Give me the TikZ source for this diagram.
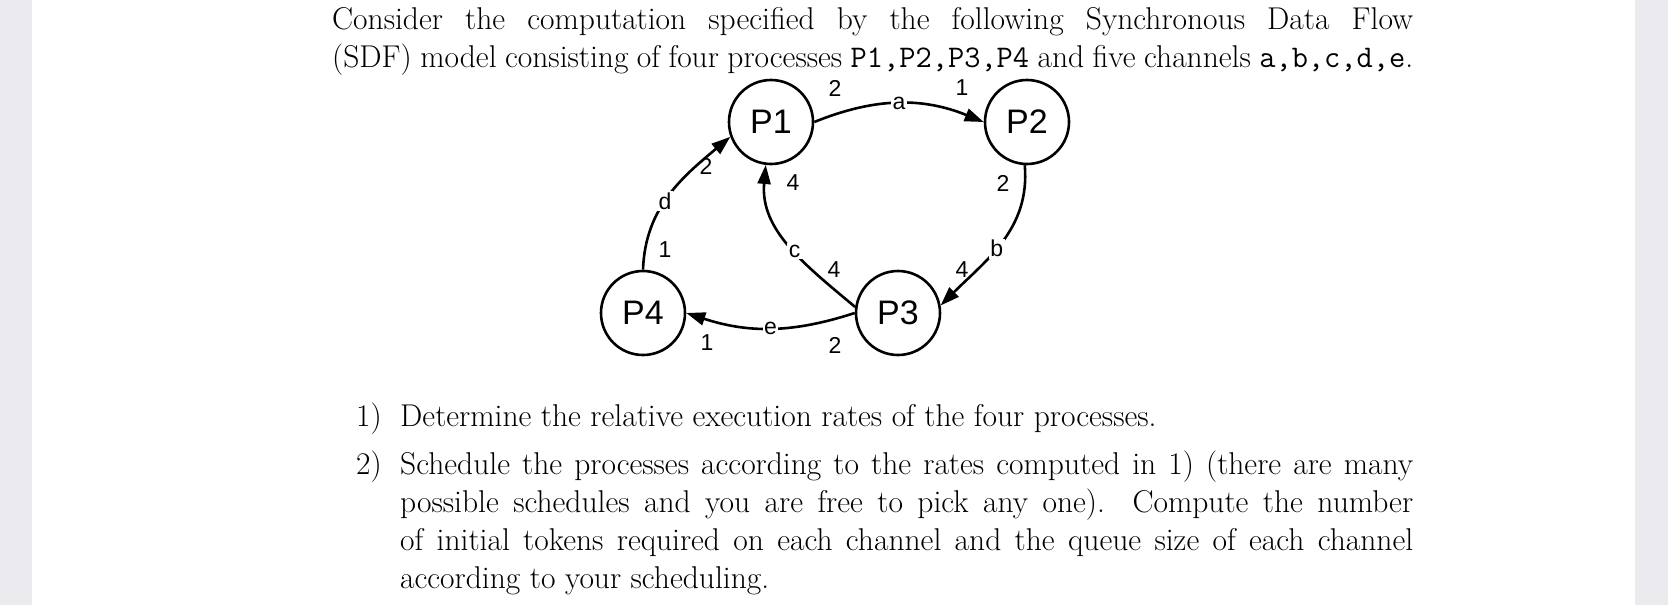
\documentclass[tikz,border=0pt]{standalone}
\usepackage{fontspec}
\newfontfamily\diag{Liberation Sans}
\usetikzlibrary{arrows.meta}
\begin{document}
\begin{tikzpicture}[x=1pt,y=1pt,
  proc/.style={circle,draw,line width=2.6pt,minimum size=84pt,inner sep=0pt,font=\diag\fontsize{34}{34}\selectfont},
  chan/.style={line width=2.6pt,-{Triangle[length=19pt,width=13pt]}},
  clab/.style={fill=white,inner sep=1.5pt,font=\diag\fontsize{23}{23}\selectfont},
  num/.style={inner sep=0pt,font=\diag\fontsize{23}{23}\selectfont},
  para/.style={anchor=north west,inner sep=0pt,align=justify,font=\fontsize{31.5}{38}\selectfont}]
\fill[black!3!blue!2!white!94!black] (0,0) rectangle (1668,-605);
\fill[white] (32,0) rectangle (1635,-605);
\useasboundingbox (0,0) rectangle (1668,-605);

\node[para,text width=1081pt] (intro) at (332,-2.4) {\strut Consider the computation specified by the following Synchronous Data Flow\linebreak (SDF) model consisting of four processes \texttt{P1,P2,P3,P4} and five channels \texttt{a,b,c,d,e}.};

\node[proc] (P1) at (771,-122) {P1};
\node[proc] (P2) at (1027,-122) {P2};
\node[proc] (P4) at (643,-313) {P4};
\node[proc] (P3) at (898,-313) {P3};

\draw[chan] (P1.east) to[bend left=22] node[clab,pos=0.5] {a} (P2.west);
\draw[chan] (P2.-93) to[out=-85,in=45] node[clab,pos=0.55] {b} (P3.10);
\draw[chan] (P3.172) to[out=140,in=-95] node[clab,pos=0.45] {c} (P1.-97);
\draw[chan] (P4.north) to[out=88,in=-140] node[clab,pos=0.45] {d} (P1.200);
\draw[chan] (P3.west) to[bend left=18] node[clab,pos=0.5] {e} (P4.east);

\node[num] (n1) at (835,-88) {2};
\node[num] (n2) at (962,-88) {1};
\node[num] (n3) at (1003,-183) {2};
\node[num] (n4) at (962,-270) {4};
\node[num] (n5) at (793,-183) {4};
\node[num] (n6) at (834,-270) {4};
\node[num] (n7) at (706,-166) {2};
\node[num] (n8) at (665,-250) {1};
\node[num] (n9) at (707,-343) {1};
\node[num] (n10) at (835,-345) {2};

\node[para] (l1) at (356,-399.4) {\strut 1)};
\node[para,text width=1013pt] (i1) at (400,-399.4) {\strut Determine the relative execution rates of the four processes.};
\node[para] (l2) at (356,-447.4) {\strut 2)};
\node[para,text width=1013pt] (i2) at (400,-447.4) {\strut Schedule the processes according to the rates computed in 1) (there are many\linebreak possible schedules and you are free to pick any one). Compute the number\linebreak of initial tokens required on each channel and the queue size of each channel\linebreak according to your scheduling.};
\end{tikzpicture}
\end{document}
